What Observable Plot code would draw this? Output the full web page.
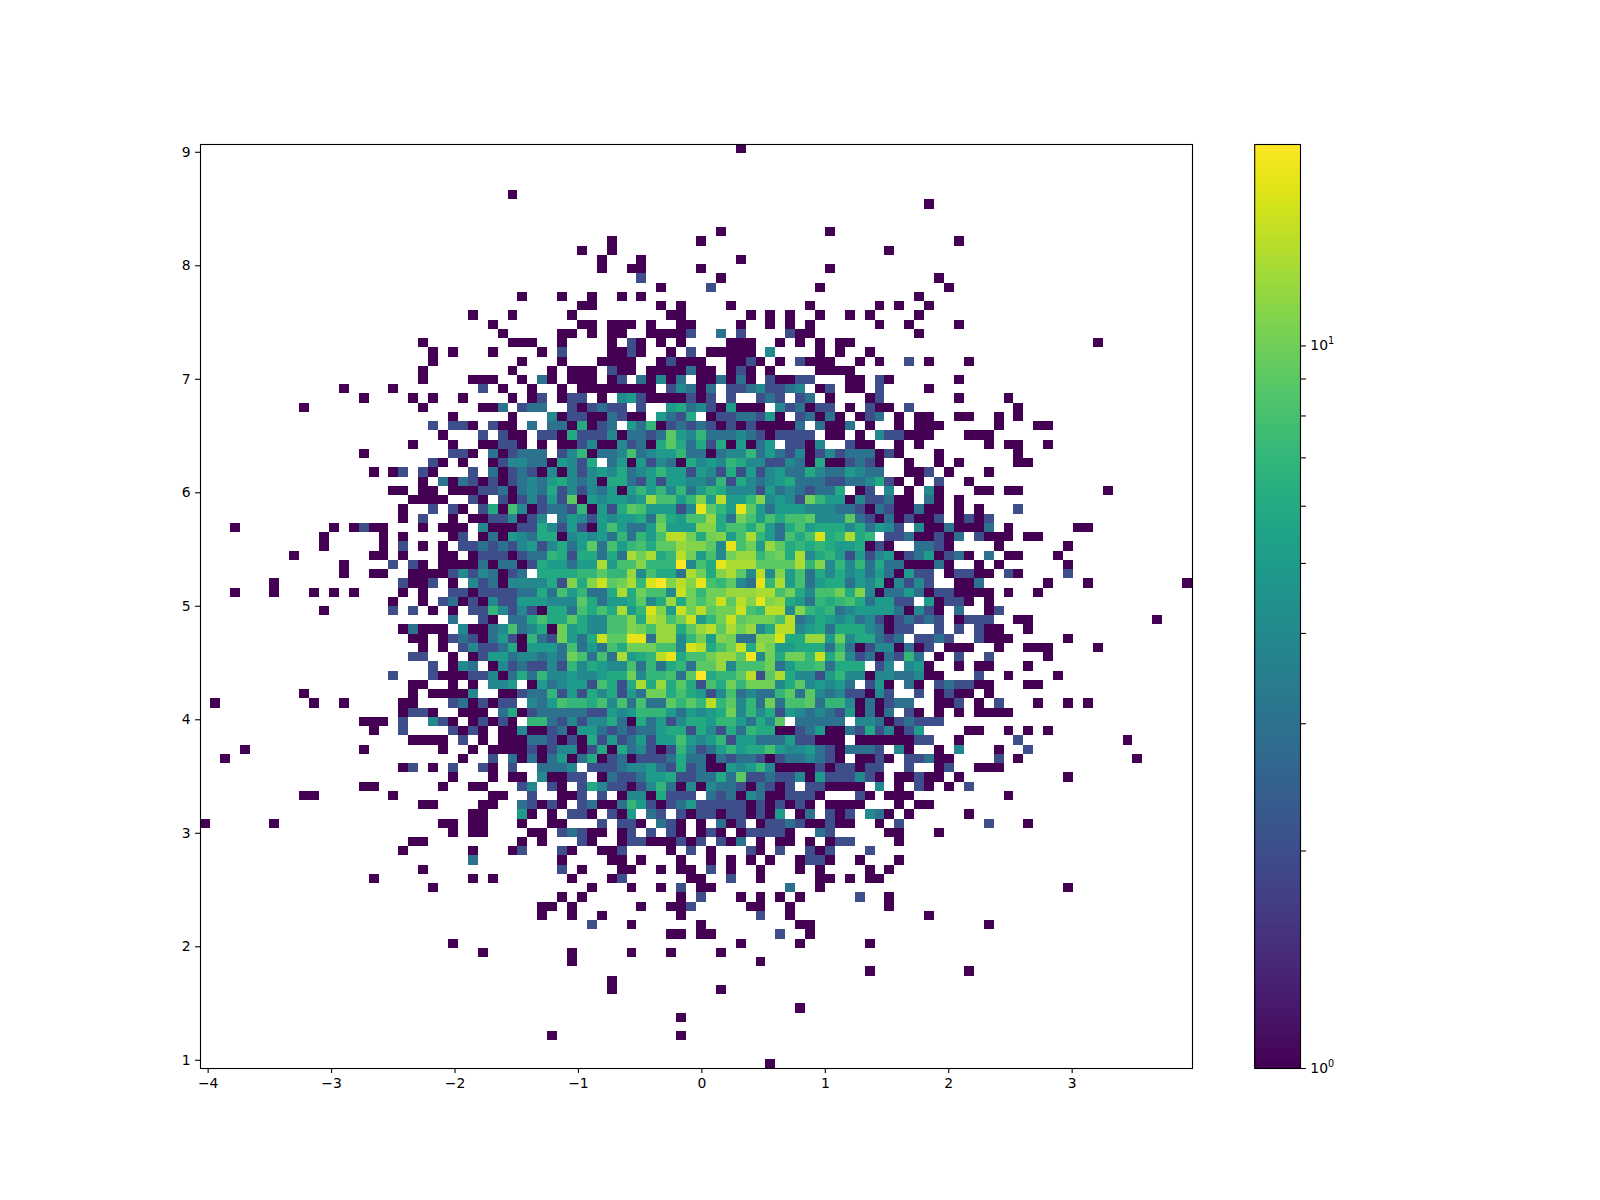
<!DOCTYPE html>
<html>
<head>
<meta charset="utf-8">
<script src="https://cdn.jsdelivr.net/npm/d3@7"></script>
<script src="https://cdn.jsdelivr.net/npm/@observablehq/plot@0.6"></script>
<style>
html,body{margin:0;padding:0;background:#fff}
#wrap{position:relative;width:1600px;height:1200px}
#wrap svg{position:absolute;left:0;top:0}
</style>
</head>
<body>
<div id="wrap"></div>
<script>
const xDomain = [-4.067, 3.97];
const yDomain = [0.932, 9.073];
const xTicks = [-4, -3, -2, -1, 0, 1, 2, 3];
const yTicks = [1, 2, 3, 4, 5, 6, 7, 8, 9];
const countMax = 19;
const cbMajor = [1, 10];
const cbMinor = [2, 3, 4, 5, 6, 7, 8, 9];
const binCount = 100;
// Each row, from the top: "firstColumn:counts" runs, counts in base 36, "." = empty.
const rows = [
"54:1","","","","","31:1","73:1","","","52:1 63:1",
"41:1 50:1 76:1","38:1 41:1 69:1","40:1 44:1 54:1","40:1 43:11 50:1 63:1","44:2 52:1 74:1","46:1 51:2 62:1 75:1",
"32:1 36:1 39:1 42:1 44:1 72:1",
"38:11 46:1 48:1 53:1 61:1 68:1 70:1 73:1",
"27:1 31:1 37:1 47:11 55:1 57:1 59:1 62:1 65:1 67:1 72:1",
"29:1 38:11 41:111 45:1 48:11 54:1 57:1 59:1 61:1 68:1 71:1 76:1",
"30:1 36:11 39:1 41:11 45:1111 49:2 52:3 54:2 59:211 72:1",
"22:1 31:111 36:1 41:1 43:21 46:1 48:1 53:111 58:1 60:1 62:1 64:11 90:1",
"23:1 25:1 29:1 34:1 36:2 41:1121 47:1 49:2 51:11111 57:4 62:1 64:1 67:1",
"23:1 32:1 36:1 40:1111 46:12 48:111 53:112 56:1 58:1 60:2111 66:1 68:1 71:2 73:1 77:1",
"22:1 31:1 35:1 37:111 41:211 45:11113 50:11 53:1 54:2 55:1 57:1 62:1111",
"22:1 27:111 32:1 34:31 37:111 41:12 44:3 45:1 46:4 47:1 48:3 50:11 52:3 53:1 54:3 55:1 57:2 58:11 60:22 65:11 68:21 76:1",
"14:1 19:1 28:2 30:1 33:1 36:1 38:11111111 47:2 48:4 49:3 50:1 51:3 53:22 55:3 56:4 57:22 59:3 60:4 62:12 65:11 68:2 73:1",
"16:1 21:1 23:1 26:1 31:1 33:12 36:1 37:22 40:1 42:452 45:1111 49:2 50:1 51:2 53:2 56:2 57:3 58:2 60:2 61:3 63:1 67:12 76:1 81:1",
"10:1 22:1 28:11 30:3 32:2 33:33 37:2 38:1 39:23 41:22 44:2 47:5 48:6 49:3 50:4 51:2 52:1 53:5 54:111 58:4 59:2 60:3 61:1 62:22 65:1 67:2 68:11 71:2 82:1",
"25:1 31:1 35:41 37:22 39:11 41:32 43:11 46:532 49:6 51:1 52:22 54:33 56:2 57:5 58:1 60:2 61:3 62:1 63:3 64:1 66:12 68:3 70:1 72:11 76:11 80:1 82:1",
"23:2 25:22 27:1 29:2 30:11 33:3 35:33 37:1 38:6 39:1 40:2 41:3 43:5371232321212 56:1111 60:3 62:3 63:11 65:3 67:1 70:1 72:111 80:1 84:11",
"24:1 28:2 30:2 31:1 32:1 34:22 36:16 38:222 41:41 43:33 45:23 47:9 48:5 49:4 50:7 51:333 54:4 55:3 56:2 57:1 58:2222 63:11 66:1 68:4 69:22 71:111 77:111",
"21:1 25:1 28:11 30:22 32:1 34:1 36:11 38:24 40:11 42:423 45:1 46:6 47:9 48:6 49:3 50:6 51:2 52:6 53:1 54:5 55:1 56:3 57:5 59:22 61:1 62:4 65:2 66:11 70:1 72:1 79:1 81:11 85:1",
"16:1 25:22 27:1 29:3 30:1 31:2 32:333 36:2 37:4 38:7 39:1 40:33 42:4 43:8 44:3 45:4 46:55 48:7 49:33 51:1 52:3 53:44 55:7 56:3 57:5 58:3 59:2 60:4 61:1 62:2 63:4 64:2 65:333 68:1 69:2 70:1 74:1 82:1",
"23:21 26:1 29:12 31:4 32:433 35:1 36:542 39:6 41:3 42:5 43:1 44:5 45:2 46:4 47:3 48:1 49:6 50:4 51:5 52:4 53:7 54:6 55:44 57:22 59:4 60:3 61:1 62:6 63:11 65:2 66:3 67:2 68:1 71:1 74:1 76:1 82:11",
"17:1 19:12 22:21 27:2 29:3 30:1 31:2 32:321 35:4 36:1 37:4 38:2 39:4 40:5 41:4 42:6 43:3 44:4 45:5 46:7 47:55 49:2 50:5 51:4 52:2 53:6 54:2 55:5 56:2 57:4 58:5 59:33 61:6 62:4 63:33 65:5 66:4 67:33 71:11 73:2 75:1 79:1",
"22:1 24:31 26:3 27:21 29:2 30:12 32:343 35:56 37:4 38:3 39:4 40:1 41:66 43:3 44:2 45:5 46:2 47:55 49:44 51:3 52:7 53:2 54:6 55:4 56:3 57:4 58:5 59:6 60:333 63:22 65:33 67:4 68:6 69:2 70:1 72:1 74:2 77:1",
"19:11 22:11 25:111 28:22 30:31 32:343 35:6 36:2 37:4 38:2 39:4 40:3 41:5 42:1 43:5 44:7 45:5 46:7 47:4 48:7 49:3 50:5 51:7 52:6 53:444 56:2 57:5 58:3 59:4 60:3 61:2 62:33 64:6 66:1 67:2 69:4 71:1 73:41 78:11 81:11 91:1",
"21:1111 27:2 28:1 30:21 32:242 35:5 36:2 37:9 38:1 39:5 40:4 41:55 43:4 44:5 45:c 46:88 48:5 49:7 50:b 51:5 52:e 53:55 55:7 56:b 57:4 58:5 59:4 60:2 61:a 62:7 63:55 65:1 66:4 67:22 69:3 70:11 73:31 76:1",
"20:1 23:2 25:21 28:2 29:6 30:1 31:8 32:412 35:33 37:2 38:7 39:1 40:5 41:2 42:6 43:9 44:8 45:555 48:2 49:4 50:h 51:9 52:7 53:5 54:h 55:9 56:5 57:3 58:555 61:444 64:33 66:2 67:1 68:3 69:2 70:11 72:3 73:11 76:1 78:1 82:2",
"20:1 22:2 25:1 27:11 29:22 31:4 32:124 36:3 37:5 38:4 39:2 40:5 41:4 42:55 44:6 45:3 46:9 47:6 48:5 49:88 51:c 52:6 53:3 54:a 55:8 56:5 57:8 58:6 59:88 61:9 62:44 64:4 65:9 66:3 67:2 68:1 69:3 70:1 71:2 72:11 74:2 76:1 77:2 78:1 79:2",
"3:1 13:1 15:12 17:11 22:1 24:111 28:4 29:111 32:226 35:4 36:2 37:5 38:2 39:1 40:5 41:8 42:5 43:33 45:5 46:a 47:55 49:5 50:bb 52:6 53:88 55:6 56:9 57:5 58:3 59:6 60:8 61:5 62:666 65:4 66:6 67:3 68:5 69:4 70:2 72:4 73:11 75:3 76:111 79:3 81:1 88:11",
"12:1 18:1 20:1 25:12 28:1 29:3 30:1 31:5 32:43 34:66 36:1 37:4 38:5 39:4 40:5 41:3 42:7 43:3 44:7 45:5 46:8 47:ee 49:a 50:6 51:a 52:b 53:5 54:8 55:d 56:7 57:5 58:3 59:8 60:6 61:8 62:g 63:6 64:7 65:d 66:6 67:7 69:22 71:3 72:11 74:2 75:1 76:3 78:2 79:111 83:11",
"12:1 18:1 20:2 22:1 24:1 26:22 28:3 29:2 30:3 31:2 32:4 33:5 34:2 35:4 36:6 37:3 38:5 39:9 40:3 41:8 42:5 43:7 44:8 45:6 46:99 48:c 49:bb 51:9 52:4 53:h 54:8 55:a 56:5 57:c 58:9 59:6 60:7 61:6 62:7 63:6 64:55 66:6 67:1 68:2 69:1 72:33 74:2 75:1 80:1 87:1",
"9:1 17:11 20:1 24:11 27:1 28:222 31:1 32:2 33:33 35:7 36:6 37:2 38:66 40:3 41:6 42:3 43:d 44:a 45:d 46:6 47:7 48:e 49:a 50:5 51:8 52:4 53:a 54:cc 56:7 57:9 58:a 59:6 60:d 61:4 62:6 63:7 64:5 65:2 66:5 67:2 68:45 70:1 71:2 72:3 73:5 74:1 75:2 76:3 77:1 79:3 81:11 86:1",
"14:1 19:2 21:21 24:1111 28:3 29:1 30:33 32:1 33:2 34:6 35:55 37:3 38:55 40:d 41:5 42:88 44:b 45:777 48:j 49:4 50:8 51:6 52:h 53:ddd 56:9 57:999 60:d 61:7 62:b 63:4 64:7 65:4 66:7 67:3 68:6 69:33 71:111 74:3 75:1 78:1 80:1 87:1",
"14:1 17:11 21:1111 25:2 26:4 27:2 28:4 29:3 30:1 31:2 32:3 34:6666 38:77 40:9 41:77 43:c 44:4 45:8 46:66 48:3 49:d 50:a 51:6 52:b 53:d 54:9 55:4 56:e 57:4 58:b 59:5 60:8 61:3 62:6 63:4 64:6 65:4 66:5 67:3 68:5 69:3 70:1 71:5 72:22 75:1 76:22 78:11 81:2 82:1 87:2",
"7:1 20:2 21:11 23:2 25:1 27:4 28:2 29:3 30:1 31:4 32:444 35:6 36:2 37:b 38:6 39:b 40:f 41:9 42:a 43:d 44:7 45:g 46:j 47:b 48:e 49:b 50:h 51:8 52:7 53:9 54:4 55:3 56:h 57:7 58:d 59:5 60:8 61:3 62:5 63:66 65:3 66:5 67:4 68:6 69:1 70:4 71:2 72:4 73:2 76:11 78:3 85:1 89:1 99:1",
"3:1 7:1 11:1 13:1 15:1 20:1 22:1 25:22 27:1 28:2222 32:33 34:6 35:3 36:8 37:5 38:7 39:33 41:6 42:d 43:6 44:a 45:88 47:4 48:f 49:a 50:7 51:aa 53:ccc 56:dd 58:8 59:a 60:6 61:4 62:88 64:a 65:6 66:b 67:4 68:1 69:33 71:5 72:3 73:1 74:22 76:1111 81:1 84:1",
"19:1 22:1 24:23 26:1 27:2 28:1 29:4 30:22 32:555 35:444 38:9 39:6 40:3 41:55 43:6 44:9 45:4 46:6 47:c 48:6 49:a 50:8 51:a 52:f 53:9 54:e 55:b 56:h 57:b 58:c 59:6 60:5 61:3 62:7 63:6 64:7 65:8 66:6 67:3 68:55 70:22 73:5 74:1 75:22 77:1 79:1",
"12:1 19:2 21:2 23:1 25:1 27:22 29:7 30:4 31:2 32:421 35:66 37:3 38:8 39:6 40:8 41:6 42:d 43:5 44:7 45:g 46:b 47:5 48:f 49:a 50:e 51:9 52:aa 54:f 55:8 56:7 57:ee 59:4 60:b 61:7 62:6 63:7 64:3 65:45 67:555 70:3 71:1 72:4 73:2 74:1 76:3 79:1 80:2",
"25:3 28:2 29:1 31:3 32:368 35:66 37:9 38:6 39:44 41:88 43:b 44:6 45:e 46:c 47:8 48:a 49:f 50:5 51:7 52:a 53:f 54:9 55:aaa 58:8 59:e 60:3 61:4 62:6 63:5 64:4 65:5 66:3 67:4 68:2 69:1 70:2 71:3 72:2 73:3 74:2 76:1 77:222 82:11 96:1",
"20:1 21:3 22:111 26:4 27:11 29:3 30:4 31:8 32:346 35:1 36:a 37:5 38:6 39:44 41:88 43:b 44:a 45:8 46:cc 48:6 49:9 50:c 51:e 52:9 53:d 54:a 55:c 56:4 57:6 58:e 59:e 60:4 61:5 62:6 63:3 64:666 67:4 68:3 69:1 70:22 74:2 76:2 78:2 79:11 83:1",
"21:11 24:1 25:2 26:3 27:2 28:1 29:3 30:5 31:2 32:1 33:7 34:3 35:2 36:a 37:5 38:3 39:6 40:f 41:99 43:hh 45:3 46:cc 48:4 49:7 50:a 51:5 52:b 53:a 54:33 56:bb 58:g 59:6 60:6 61:cc 63:5 64:a 65:4 66:6 67:6 68:3 69:2 70:3 72:22 74:3 75:2 78:2 79:111 87:1",
"22:1 24:1 26:2 27:4 28:22 30:3 31:6 32:1 33:555 36:3 37:8 38:3 39:5 40:3 41:8 42:6 43:aaa 46:88 48:4 49:g 50:e 51:6 52:8 53:a 54:f 55:6 56:c 57:a 58:55 60:666 63:3 64:7 65:3 66:1 67:2 68:44 70:1 71:3 72:1 73:2 75:111 80:1 83:111 90:1",
"21:22 25:1 27:1 28:2 29:55 31:3 32:443 35:4 36:3 37:a 38:8 39:3 40:8 41:3 42:d 43:5 44:6 45:7 46:e 47:h 48:6 49:88 51:a 52:cc 54:9 55:i 56:4 57:a 58:6 59:aa 61:7 62:f 63:6 64:9 65:4 66:2 67:3 68:1 69:3 70:2 71:7 72:3 74:1 76:2 79:2 85:1",
"23:2 25:1 26:4 27:3 29:1 30:4 31:2 32:3 33:22 35:4 36:2 37:7 38:4 39:6 40:5 41:44 43:8 44:3 45:7 46:3 47:6 48:7 49:3 50:99 52:c 53:4 54:888 57:a 58:3 59:5 60:77 62:8 63:3 64:666 68:2 69:4 71:45 73:1 76:1 78:11 83:1",
"19:2 23:2 24:111 27:22 29:4 30:1 31:3 32:6 33:3 34:7 35:44 37:5 38:44 40:5 41:66 43:a 44:4 45:77 47:8 48:3 49:9 50:j 51:6 52:77 54:9 55:e 56:2 57:9 58:d 59:6 60:44 62:2 63:5 64:7 65:44 67:1 68:44 70:33 72:4 73:11 78:2 81:1 86:1",
"21:11 25:1 27:1 29:44 31:5 33:1 34:5 35:3 36:4 37:55 39:2 40:8 41:6 42:2 43:6 44:d 45:6 46:c 47:6 48:9 49:6 50:2 51:8 52:6 53:a 54:7 55:aaa 58:4 59:6 60:9 61:4 62:5 63:4 64:5 65:3 67:2 68:5 69:1 71:3 72:1 74:2 75:3 76:22 78:11 83:11",
"10:1 21:1 23:1111 27:4 30:11 32:2 33:33 35:7 36:2 37:5 38:2 39:6 40:4 41:6 42:2 43:5 44:3 45:aa 47:6 48:8 49:6 50:5 51:2 52:4 53:8 54:3 55:4 56:33 58:7 59:9 60:3 61:9 62:4 63:3 64:4 65:22 67:1 68:4 69:2 72:2 74:1 75:2 76:11 79:1",
"1:1 11:1 14:1 20:11 25:2 26:3 27:1 28:2 29:1 30:22 33:4 34:3 35:5 36:8 37:77 39:6 40:8 41:4 42:8 43:3 44:8 45:33 47:9 48:7 49:9 50:7 51:e 52:7 53:9 54:4 55:7 56:3 57:a 58:3 59:8 60:8 61:9 62:3 63:77 65:4 66:1 67:3 68:1 69:2 70:33 74:11 76:2 78:1 80:2 84:1 87:1 89:1",
"20:1 21:22 23:1 26:111 30:3 31:6 32:1 33:2 34:333 37:33 39:22 41:5 42:4 43:5 44:777 47:5 48:3 49:5 50:4 51:5 52:6 53:a 54:4 55:7 56:4 57:6 58:2 59:5 60:4 61:3 62:4 63:3 64:2 65:5 66:1 67:3 68:1 69:3 71:2 72:1 74:1 76:1 78:1111",
"16:111 20:2 23:4 24:2 25:1 27:1 28:2 29:1 30:2 31:1 33:77 35:3 36:2 37:4 38:2 39:44 41:6 42:3 43:1 44:6 45:3 46:5 47:2 48:4 49:66 51:5 52:77 54:5 55:3 56:6 57:4 58:9 60:33333 66:4 67:4 68:3 69:1 70:2 71:3 72:222",
"17:1 20:2 25:2 26:1 27:2 28:1 30:11 32:4 33:11 35:2 36:3 37:1 38:5 39:5 40:3 41:2 42:3 43:2 44:33 46:5 47:66 49:2 50:6 51:4 52:2 53:6 54:3 55:7 56:66 58:11 60:2 61:3 62:5 63:11 65:3 66:2 67:6 68:2 69:4 70:1 71:2 72:5 77:11 81:1 83:1 85:1",
"21:1111 26:2 28:1 30:111 33:33 35:2 36:1 37:2 38:1 39:6 40:2 41:5 42:2 43:3 44:5 45:2 46:55 48:8 49:5 50:4 51:5 52:7 53:2 54:55 56:333 59:5 60:22 62:111 66:1 67:11111 72:22 76:1 82:2 93:1",
"4:1 16:1 24:1 27:1 29:1111 33:2 34:1 35:2 36:44 38:1 39:2 40:6 41:1 42:6 43:3 44:4 45:2 46:1 47:2 48:7 49:4 50:2 51:3 52:5 53:7 54:5 55:66 57:8 58:5 59:44 61:5 62:3 63:2 64:1 65:33 67:3 68:2 70:4 71:1 74:1 76:4 80:1 83:2",
"2:1 26:1 29:2 31:3 32:1 33:3 34:1 35:3 36:5 37:1 38:3 39:6 40:1 41:2 42:3 43:1 44:222 47:3 48:6 49:33 51:1 52:3 53:2 54:33 56:2 57:1 58:2 59:33 61:4 62:3 63:2 64:1 66:11 68:2 69:1 71:22 73:3 74:11 80:2 82:1 94:1",
"20:1 21:2 23:1 25:2 28:2 29:1 31:2 34:333 37:4 39:222 42:3 43:44 45:5 46:3 47:2 48:6 49:2 50:3 51:11 53:5 54:4 55:5 56:7 57:4 58:1111 62:2 63:1 64:22 66:1 67:22 71:2 74:1 75:2 78:111",
"25:1 29:1 31:11 34:4 35:11 37:22 40:1 41:3 42:22 44:3 45:55 47:6 48:22 50:33 52:6 53:3 54:9 55:22 57:3 58:22 60:4 61:1 62:5 63:222 66:4 67:2 68:1 70:11 72:2 73:11 76:1 87:1",
"16:11 24:1 27:11 32:2 33:4 35:2 36:1 38:2 39:6 40:4 41:22 43:1 44:2 45:4 46:7 47:3 48:1 49:4 50:1 51:4 52:33 54:2 55:1 56:3 57:2 58:1 59:2 61:22 63:1111 68:4 70:1 72:2 73:1 75:1 77:2",
"10:11 19:1 29:11 33:2 36:11 38:2 40:2 42:1 43:44 45:1 46:6 47:222 51:3 52:2 53:3 54:1 55:4 56:3 57:11 59:222 62:1 66:2 67:1 69:111 81:1",
"22:11 28:11 32:3 33:2 34:1 35:2 36:1 38:2 39:3 40:11 42:3 43:7 44:5 45:2 46:1 47:2 48:3 49:5 50:2222 54:2 55:1 56:2 57:1 58:2 59:1 60:2 61:1 63:1111 70:1 72:11",
"27:11 32:5 33:1 35:1 37:22 39:1 41:2 42:1 43:5 45:3 46:2 48:2 49:1 50:22 52:1 53:22 55:1 56:2 57:1 58:5 60:1 61:3 63:2 64:1 65:2 67:43 69:1 71:1 77:1",
"0:1 7:1 24:11 27:11 32:1 35:11 40:2 42:22 44:1 46:3 47:2 48:1 50:1 52:3 53:1 54:2 56:1 57:22 59:3 60:2 61:11 63:2 64:11 68:1 70:2 79:2 83:1",
"25:1 27:11 33:11 36:2 37:3 38:2 39:11 42:1 43:2 45:2 47:2 48:1 50:1 51:2 52:1 54:1 55:2222 59:1 62:3 63:2 69:11 74:1",
"21:11 32:1 34:1 38:2 39:1 42:1 43:22 45:111 48:2 49:1 50:2 52:2 53:1 54:3 56:1 58:11 61:1 63:1 64:22 70:1",
"20:1 27:1 31:1 32:2 36:2 37:1 40:11 42:2 47:1 49:2 51:1 55:2 56:1 58:2 61:2 62:1 63:2 67:2",
"27:3 36:1 41:11 44:1 48:1 51:1 53:1 55:1 57:1 60:1 61:22 63:1 66:1 70:1",
"22:1 36:2 38:1 42:11 46:1 48:11 51:2 53:1 56:1 60:1 62:1 67:1 69:1",
"17:1 27:1 29:1 37:1 41:1 42:2 49:11 53:2 56:1 62:11 65:1 67:11",
"23:1 39:1 43:1 46:1 48:2 50:11 59:3 62:1 87:1",
"36:1 38:1 48:1 50:2 54:1 56:1 58:1 60:1 66:2 69:1",
"34:11 37:1 44:1 47:11 49:2 55:11 59:1 69:1",
"34:1 37:1 40:1 48:1 56:2 59:1 73:1",
"39:2 43:1 50:1 60:11 79:1",
"47:11 50:11 58:2 61:1",
"25:1 54:1 60:1 67:1",
"28:1 37:1 43:1 47:1 52:1",
"37:1 56:1",
"67:1 77:1",
"41:1",
"41:1 52:1",
"",
"60:1",
"48:1",
"",
"35:1 48:1",
"",
"",
"57:1"
];

const dx = (xDomain[1] - xDomain[0]) / binCount;
const dy = (yDomain[1] - yDomain[0]) / binCount;
const cells = [];
rows.forEach((row, r) => {
  if (!row) return;
  row.split(" ").forEach(run => {
    const [start, counts] = run.split(":");
    [...counts].forEach((ch, i) => {
      if (ch === ".") return;
      const c = +start + i;
      cells.push({
        x1: xDomain[0] + c * dx, x2: xDomain[0] + (c + 1) * dx,
        y1: yDomain[1] - (r + 1) * dy, y2: yDomain[1] - r * dy,
        count: parseInt(ch, 36)
      });
    });
  });
});

const font = {fontFamily: "'DejaVu Sans'", fontSize: "13.9px", background: "transparent", color: "#000", overflow: "visible"};
const colorOpts = {type: "log", scheme: "viridis", domain: [1, countMax]};
const minusFmt = d => d < 0 ? "\u2212" + (-d) : String(d);

const main = Plot.plot({
  width: 1600, height: 1200,
  marginLeft: 200, marginRight: 408, marginTop: 144, marginBottom: 132,
  style: font,
  x: {domain: xDomain, label: null},
  y: {domain: yDomain, label: null},
  color: colorOpts,
  marks: [
    Plot.rect(cells, {x1: "x1", x2: "x2", y1: "y1", y2: "y2", fill: "count", shapeRendering: "crispEdges"}),
    Plot.frame({stroke: "#000", strokeWidth: 1.1}),
    Plot.axisX({ticks: xTicks, tickFormat: minusFmt, tickSize: 4.9, tickPadding: 4.9, strokeWidth: 1.1, stroke: "#000", fill: "#000", fontSize: 13.9, label: null, dx: -0.6}),
    Plot.axisY({ticks: yTicks, tickFormat: minusFmt, tickSize: 4.9, tickPadding: 4.9, strokeWidth: 1.1, stroke: "#000", fill: "#000", fontSize: 13.9, label: null, dy: -0.5})
  ]
});

const cbLevels = d3.range(256).map(i => ({
  lo: Math.pow(countMax, i / 256),
  hi: Math.pow(countMax, (i + 1) / 256),
  mid: Math.pow(countMax, (i + 0.5) / 256)
}));
const supers = new Map([[1, "0"], [10, "1"]]);
const colorbar = Plot.plot({
  width: 1600, height: 1200,
  marginLeft: 1254.2, marginRight: 300, marginTop: 144, marginBottom: 132,
  style: font,
  x: {domain: [0, 1], axis: null},
  y: {type: "log", domain: [1, countMax], axis: null, label: null},
  color: colorOpts,
  marks: [
    Plot.rect(cbLevels, {x1: () => 0, x2: () => 1, y1: "lo", y2: "hi", fill: "mid", shapeRendering: "crispEdges"}),
    Plot.frame({stroke: "#000", strokeWidth: 1.1}),
    Plot.axisY({anchor: "right", ticks: [...cbMajor, ...cbMinor], tickFormat: d => supers.has(d) ? "10" + supers.get(d) : "", tickSize: 4.9, tickPadding: 4.9, strokeWidth: 1.1, stroke: "#000", fill: "#000", fontSize: 13.9, label: null, textAnchor: "start"})
  ]
});

// Matplotlib sets the colorbar's exponent as a raised, smaller digit.
colorbar.querySelectorAll("text").forEach(t => {
  const s = t.textContent.trim();
  if (s !== "100" && s !== "101") return;
  const ns = "http://www.w3.org/2000/svg";
  const src = t.querySelector("tspan") || t;
  src.textContent = "10";
  const sup = document.createElementNS(ns, "tspan");
  sup.setAttribute("font-size", "9.7");
  sup.setAttribute("dy", "-6");
  sup.textContent = s[2];
  t.appendChild(sup);
});

const wrap = document.getElementById("wrap");
wrap.appendChild(main);
wrap.appendChild(colorbar);
</script>
</body>
</html>
